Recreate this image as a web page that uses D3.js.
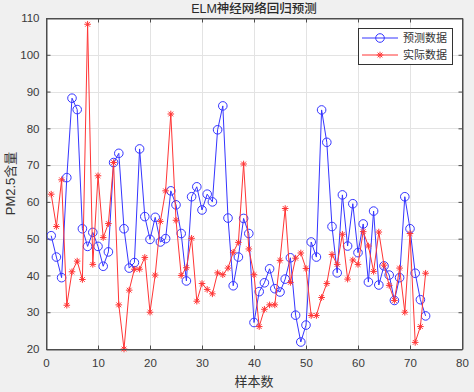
<!DOCTYPE html>
<html><head><meta charset="utf-8">
<script src="https://cdn.jsdelivr.net/npm/d3@7/dist/d3.min.js"></script>
<style>
html,body{margin:0;padding:0;background:#f0f0f0;}
svg{display:block;}
</style></head>
<body>
<svg id="c" width="474" height="392"></svg>
<script>
const titleText = "ELM神经网络回归预测";
const xLabel = "样本数";
const yLabel = "PM2.5含量";
const seriesNames = ["预测数据", "实际数据"];
const xTicks = [0,10,20,30,40,50,60,70,80];
const yTicks = [20,30,40,50,60,70,80,90,100,110];
const predicted = [50.8,45.0,39.4,66.6,88.2,85.1,52.7,47.9,51.7,47.9,42.5,46.4,70.7,73.2,52.7,42.0,43.5,74.4,56.0,49.8,
  55.8,49.1,50.0,63.0,59.2,51.4,38.5,61.4,64.1,57.8,62.1,60.0,79.6,86.1,55.6,37.2,45.0,55.5,51.4,27.2,
  35.6,38.0,41.8,36.4,35.5,39.0,44.8,29.2,21.9,26.5,49.1,45.0,85.0,76.2,53.3,40.7,61.9,48.0,59.5,46.2,
  54.0,38.2,57.5,37.4,42.6,40.1,33.2,39.4,61.4,52.7,40.6,33.4,29.0];
const actual = [62.1,53.3,66.0,31.9,41.0,43.9,38.9,108.3,43.0,67.1,50.3,54.1,70.7,32.0,20.0,36.0,41.7,41.7,44.9,30.0,
  40.1,54.7,63.0,83.9,55.0,40.0,42.1,50.1,33.0,37.8,36.2,35.0,40.7,40.2,42.0,46.3,49.0,70.3,47.2,40.2,
  26.1,30.8,32.0,32.0,44.1,58.2,38.1,44.7,46.1,41.9,29.1,29.1,34.0,37.8,45.7,43.0,51.2,39.0,44.2,43.0,
  51.9,48.0,41.1,51.8,42.8,37.3,33.2,42.0,30.0,51.4,21.8,26.1,40.6];

const svg = d3.select("#c");
const L = 46, R = 462, T = 18, B = 349;
const x = d3.scaleLinear().domain([0,80]).range([L,R]);
const y = d3.scaleLinear().domain([20,110]).range([B,T]);
const font = "'Liberation Sans', Arial, sans-serif";
const cjk = "'Liberation Sans','Noto Sans CJK SC', sans-serif";
const axisCol = "#4d4d4d";

svg.append("rect").attr("x",L).attr("y",T).attr("width",R-L).attr("height",B-T).attr("fill","#fff");

// grid
const g = svg.append("g");
g.selectAll(".gx").data(xTicks.slice(1,-1)).enter().append("line")
  .attr("x1",d=>x(d)+0.5).attr("x2",d=>x(d)+0.5).attr("y1",T).attr("y2",B)
  .attr("stroke","#e3e3e3").attr("stroke-width",1);
g.selectAll(".gy").data(yTicks.slice(1,-1)).enter().append("line")
  .attr("y1",d=>Math.round(y(d))+0.5).attr("y2",d=>Math.round(y(d))+0.5).attr("x1",L).attr("x2",R)
  .attr("stroke","#e3e3e3").attr("stroke-width",1);

// axes
const xAxis = svg.append("g").attr("transform",`translate(0,${B+0.5})`)
  .call(d3.axisBottom(x).tickValues(xTicks).tickSizeInner(-4).tickSizeOuter(0).tickPadding(9));
const xAxisTop = svg.append("g").attr("transform",`translate(0,${T+0.5})`)
  .call(d3.axisTop(x).tickValues(xTicks).tickSizeInner(-4).tickSizeOuter(0).tickFormat(""));
const yAxis = svg.append("g").attr("transform",`translate(${L+0.5},0)`)
  .call(d3.axisLeft(y).tickValues(yTicks).tickSizeInner(-4).tickSizeOuter(0).tickPadding(7));
const yAxisR = svg.append("g").attr("transform",`translate(${R+0.5},0)`)
  .call(d3.axisRight(y).tickValues(yTicks).tickSizeInner(-4).tickSizeOuter(0).tickFormat(""));
[xAxis,xAxisTop,yAxis,yAxisR].forEach(a=>{
  a.selectAll("path").attr("stroke",axisCol);
  a.selectAll("line").attr("stroke",axisCol);
  a.selectAll("text").attr("fill","#3a3a3a").style("font-family",font).style("font-size","11.5px");
});

const line = d3.line().x((d,i)=>x(i+1)).y(d=>y(d));
const plot = svg.append("g");
const blue = "#3535ff", red = "#ff3535";

plot.append("path").datum(predicted).attr("d",line).attr("fill","none").attr("stroke",blue).attr("stroke-width",1);
plot.selectAll(".pc").data(predicted).enter().append("circle")
  .attr("cx",(d,i)=>x(i+1)).attr("cy",d=>y(d)).attr("r",4.3)
  .attr("fill","none").attr("stroke",blue).attr("stroke-width",1);

function star(sel, cx, cy, s, col){
  const gg = sel.append("g").attr("stroke",col).attr("stroke-width",1);
  gg.append("line").attr("x1",cx-s).attr("x2",cx+s).attr("y1",cy).attr("y2",cy);
  gg.append("line").attr("x1",cx).attr("x2",cx).attr("y1",cy-s).attr("y2",cy+s);
  const k = s*0.72;
  gg.append("line").attr("x1",cx-k).attr("x2",cx+k).attr("y1",cy-k).attr("y2",cy+k);
  gg.append("line").attr("x1",cx-k).attr("x2",cx+k).attr("y1",cy+k).attr("y2",cy-k);
}
plot.append("path").datum(actual).attr("d",line).attr("fill","none").attr("stroke",red).attr("stroke-width",1);
actual.forEach((d,i)=>star(plot, x(i+1), y(d), 3.3, red));

// box border
svg.append("rect").attr("x",L+0.5).attr("y",T+0.5).attr("width",R-L).attr("height",B-T)
  .attr("fill","none").attr("stroke",axisCol).attr("stroke-width",1);

// title & labels
svg.append("text").attr("x",(L+R)/2).attr("y",13).attr("text-anchor","middle")
  .style("font-family",cjk).style("font-size","12.5px").style("font-weight","500").attr("fill","#2a2a2a").text(titleText);
svg.append("text").attr("x",(L+R)/2).attr("y",386).attr("text-anchor","middle")
  .style("font-family",cjk).style("font-size","13px").attr("fill","#333").text(xLabel);
svg.append("text").attr("transform",`translate(15,${(T+B)/2}) rotate(-90)`).attr("text-anchor","middle")
  .style("font-family",cjk).style("font-size","13px").attr("fill","#333").text(yLabel);

// legend
const lg = svg.append("g");
lg.append("rect").attr("x",358.5).attr("y",28.5).attr("width",94).attr("height",36)
  .attr("fill","#fff").attr("stroke","#333").attr("stroke-width",1);
const rows = [{name:seriesNames[0], col:blue, yy:38},{name:seriesNames[1], col:red, yy:55}];
rows.forEach((r,i)=>{
  lg.append("line").attr("x1",362).attr("x2",398).attr("y1",r.yy).attr("y2",r.yy).attr("stroke",r.col).attr("stroke-width",1);
  if(i===0) lg.append("circle").attr("cx",380).attr("cy",r.yy).attr("r",4.3).attr("fill","none").attr("stroke",r.col);
  else star(lg, 380, r.yy, 3.3, r.col);
  lg.append("text").attr("x",403).attr("y",r.yy+4).style("font-family","'Noto Sans CJK SC', sans-serif")
    .style("font-size","11px").attr("fill","#333").text(r.name);
});
</script>
</body></html>
